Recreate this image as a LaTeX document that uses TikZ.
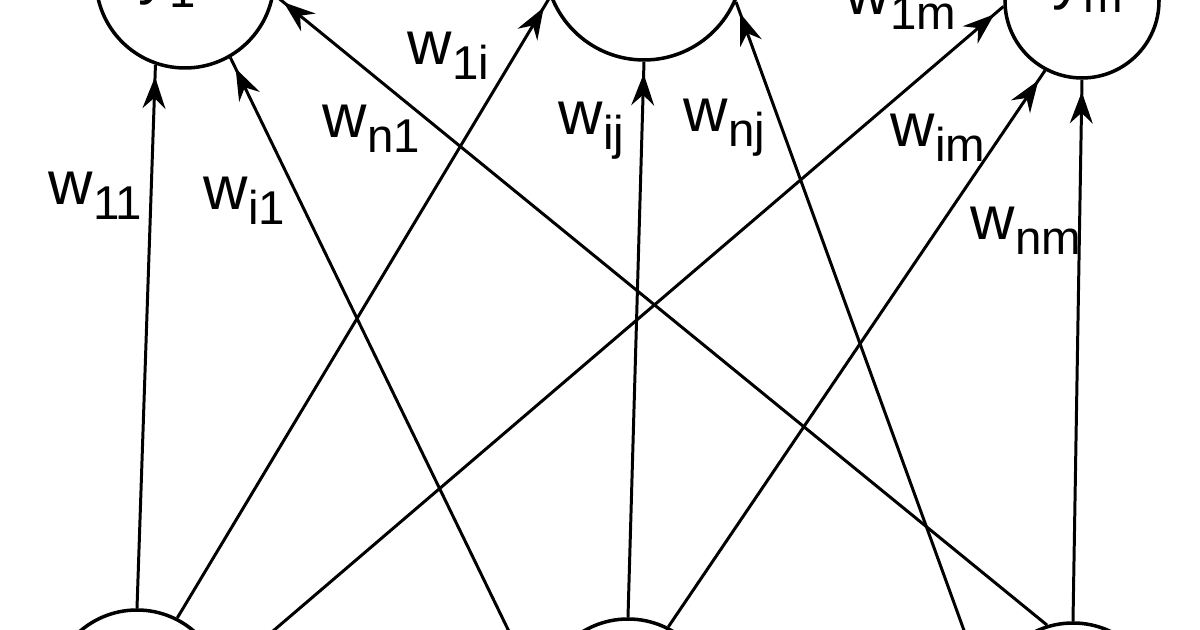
\documentclass[tikz,border=0pt]{standalone}
\usepackage{fontspec}
\setmainfont{Liberation Sans}
\usetikzlibrary{arrows.meta,decorations.markings}
\newcommand{\wt}[1]{{\fontsize{17.5}{17.5}\selectfont w}\raisebox{-4.2pt}{\fontsize{13.5}{13.5}\selectfont #1}}
\newcommand{\yt}[1]{{\fontsize{17.5}{17.5}\selectfont y}\raisebox{-4.2pt}{\fontsize{13.5}{13.5}\selectfont #1}}

\begin{document}
\begin{tikzpicture}
  [neuron/.style={circle, draw, line width=1pt, inner sep=0pt, minimum size=1.74cm},
   wire/.style={line width=0.85pt, postaction={decorate},
     decoration={markings, mark=at position -1.2mm with {\arrow{Stealth[length=9pt,width=6.5pt,inset=3pt]}}}},
   wlabel/.style={inner sep=0pt, anchor=base west}]
  \useasboundingbox (0,0) rectangle (12,-6.3);
  \fill[white] (0,0) rectangle (12,-6.3);
  \clip (0,0) rectangle (12,-6.3);
  % output neurons (cut off at the top)
  \node[neuron, minimum size=1.78cm] (y1) at (1.85,0.21) {};
  \node[neuron, minimum size=1.98cm] (yj) at (6.44,0.39) {};
  \node[neuron, minimum size=1.54cm] (ym) at (10.82,-0.01) {};
  \node[wlabel] (ly1) at (1.38,0.07) {\yt{1}};
  \node[wlabel] (lym) at (10.52,0.02) {\yt{m}};
  % input neurons (cut off at the bottom)
  \node[neuron] (x1) at (1.37,-6.97) {};
  \node[neuron] (xi) at (6.28,-7.06) {};
  \node[neuron] (xn) at (10.73,-7.10) {};
  % weights
  \draw[wire] (x1.90) -- (y1.251);
  \draw[wire] (xi.173) -- (y1.300);
  \draw[wire] (xn.107) -- (y1.350);
  \draw[wire] (x1.63) -- (yj.201);
  \draw[wire] (xi.90) -- (yj.270);
  \draw[wire] (xn.168) -- (yj.336);
  \draw[wire] (x1.15) -- (ym.184);
  \draw[wire] (xi.63) -- (ym.242);
  \draw[wire] (xn.90) -- (ym.270);
  \node[wlabel] (w11) at (0.48,-2.05) {\wt{11}};
  \node[wlabel] (wi1) at (2.03,-2.10) {\wt{i1}};
  \node[wlabel] (wn1) at (3.22,-1.38) {\wt{n1}};
  \node[wlabel] (w1i) at (4.07,-0.65) {\wt{1i}};
  \node[wlabel] (wij) at (5.58,-1.35) {\wt{ij}};
  \node[wlabel] (wnj) at (6.83,-1.32) {\wt{nj}};
  \node[wlabel] (w1m) at (8.45,-0.15) {\wt{1m}};
  \node[wlabel] (wim) at (8.90,-1.47) {\wt{im}};
  \node[wlabel] (wnm) at (9.70,-2.40) {\wt{nm}};
\end{tikzpicture}
\end{document}
